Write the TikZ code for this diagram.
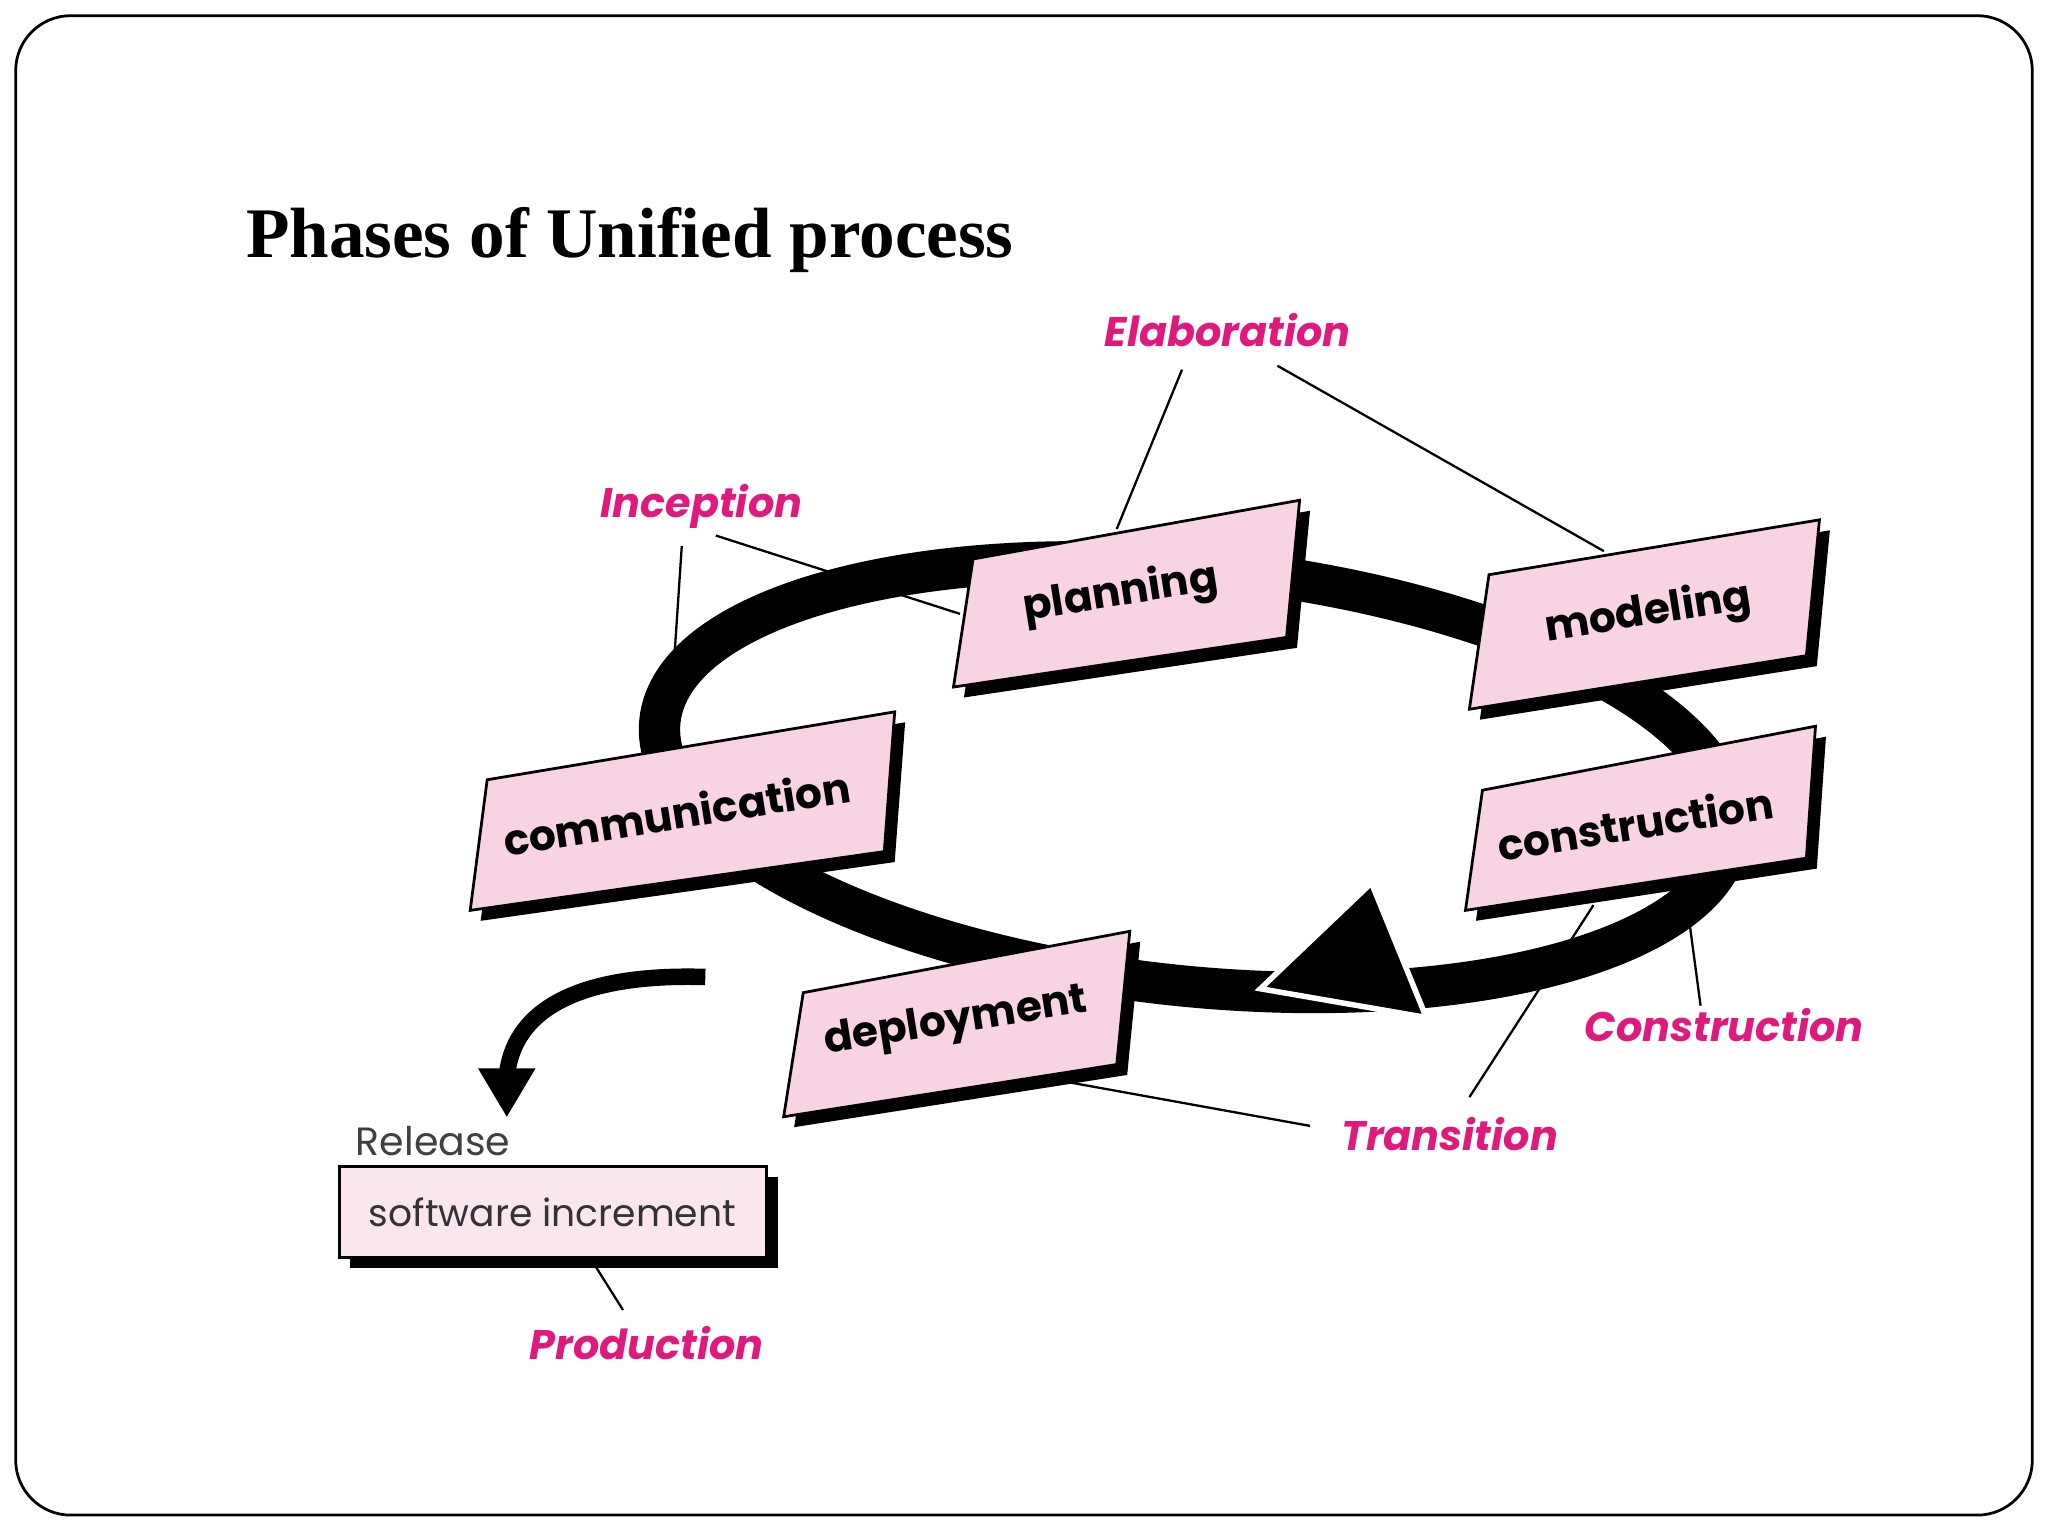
\documentclass[tikz,border=0pt]{standalone}
\usepackage{fontspec}
\setmainfont{Liberation Serif}
\newfontfamily\geo{Poppins}
\definecolor{mag}{HTML}{E0197D}
\definecolor{pk}{HTML}{F8D3E3}
\begin{document}
\begin{tikzpicture}[x=0.1mm,y=-0.1mm,
  shad/.style={fill=black},
  card/.style={fill=pk,draw=black,line width=0.6pt},
  lab/.style={text=mag,font=\geo\bfseries\itshape\fontsize{9pt}{11pt}\selectfont},
  btxt/.style={font=\geo\bfseries\fontsize{9.2pt}{11pt}\selectfont},
  ln/.style={line width=0.5pt}]
\useasboundingbox (0,0) rectangle (1568,1176);
\draw[line width=0.6pt,rounded corners=12pt] (12,12) rectangle (1556,1160);
\node[anchor=base west,font=\bfseries\fontsize{15.5pt}{18pt}\selectfont] (title) at (176,197) {Phases of Unified process};
% ring
\draw[line width=9pt,rotate around={-6:(915,595)}] (915,595) ellipse [x radius=412, y radius=160];
\draw[fill=black,draw=white,line width=1.2pt] (1050,676) -- (965,757) -- (1092,779) -- cycle;
% release arrow
\draw[line width=3.6pt] (540,748) .. controls (440,745) and (392,775) .. (388,825);
\fill (366,818) -- (388,855) -- (410,818) -- cycle;
% boxes
\fill[shad] (753,436)--(1003,391)--(993,496)--(738,534)--cycle;
\draw[card] (745,428)--(995,383)--(985,488)--(730,526)--cycle;
\node[btxt,rotate=9] (planning) at (858,455) {planning};
\fill[shad] (1148,448)--(1401,406)--(1391,510)--(1133,551)--cycle;
\draw[card] (1140,440)--(1393,398)--(1383,502)--(1125,543)--cycle;
\node[btxt,rotate=9] (modeling) at (1262,470) {modeling};
\fill[shad] (381,605)--(693,553)--(685,660)--(368,705)--cycle;
\draw[card] (373,597)--(685,545)--(677,652)--(360,697)--cycle;
\node[btxt,rotate=9] (communication) at (518,622) {communication};
\fill[shad] (1143,613)--(1398,564)--(1391,665)--(1130,705)--cycle;
\draw[card] (1135,605)--(1390,556)--(1383,657)--(1122,697)--cycle;
\node[btxt,rotate=9] (construction) at (1252,630) {construction};
\fill[shad] (623,768)--(873,721)--(863,823)--(608,863)--cycle;
\draw[card] (615,760)--(865,713)--(855,815)--(600,855)--cycle;
\node[btxt,rotate=9] (deployment) at (732,783) {deployment};
% release box
\node[anchor=base west,text=black!75,font=\geo\fontsize{8.6pt}{10pt}\selectfont] (release) at (260,885) {Release};
\fill (268,901) rectangle (596,971);
\draw[card,fill=pk!60] (260,893) rectangle (587,963);
\node[font=\geo\fontsize{8.2pt}{10pt}\selectfont,text=black!80] (sw) at (423,928) {software increment};
% labels
\node[lab] (elab) at (940,253) {Elaboration};
\node[lab] (incep) at (537,388) {Inception};
\node[lab] (constr) at (1320,785) {Construction};
\node[lab] (trans) at (1110,868) {Transition};
\node[lab] (prod) at (495,1028) {Production};
\coordinate (e1) at (905,283); \coordinate (e2) at (978,280);
\coordinate (i1) at (522,418); \coordinate (i2) at (548,410);
\draw[ln] (e1) -- (855,405);
\draw[ln] (e2) -- (1228,422);
\draw[ln] (i1) -- (512,568);
\draw[ln] (i2) -- (735,470);
\draw[ln] (1290,680) -- (1302,770);
\draw[ln] (1220,693) -- (1125,840);
\draw[ln] (815,828) -- (1003,862);
\draw[ln] (455,968) -- (477,1003);
\end{tikzpicture}
\end{document}
